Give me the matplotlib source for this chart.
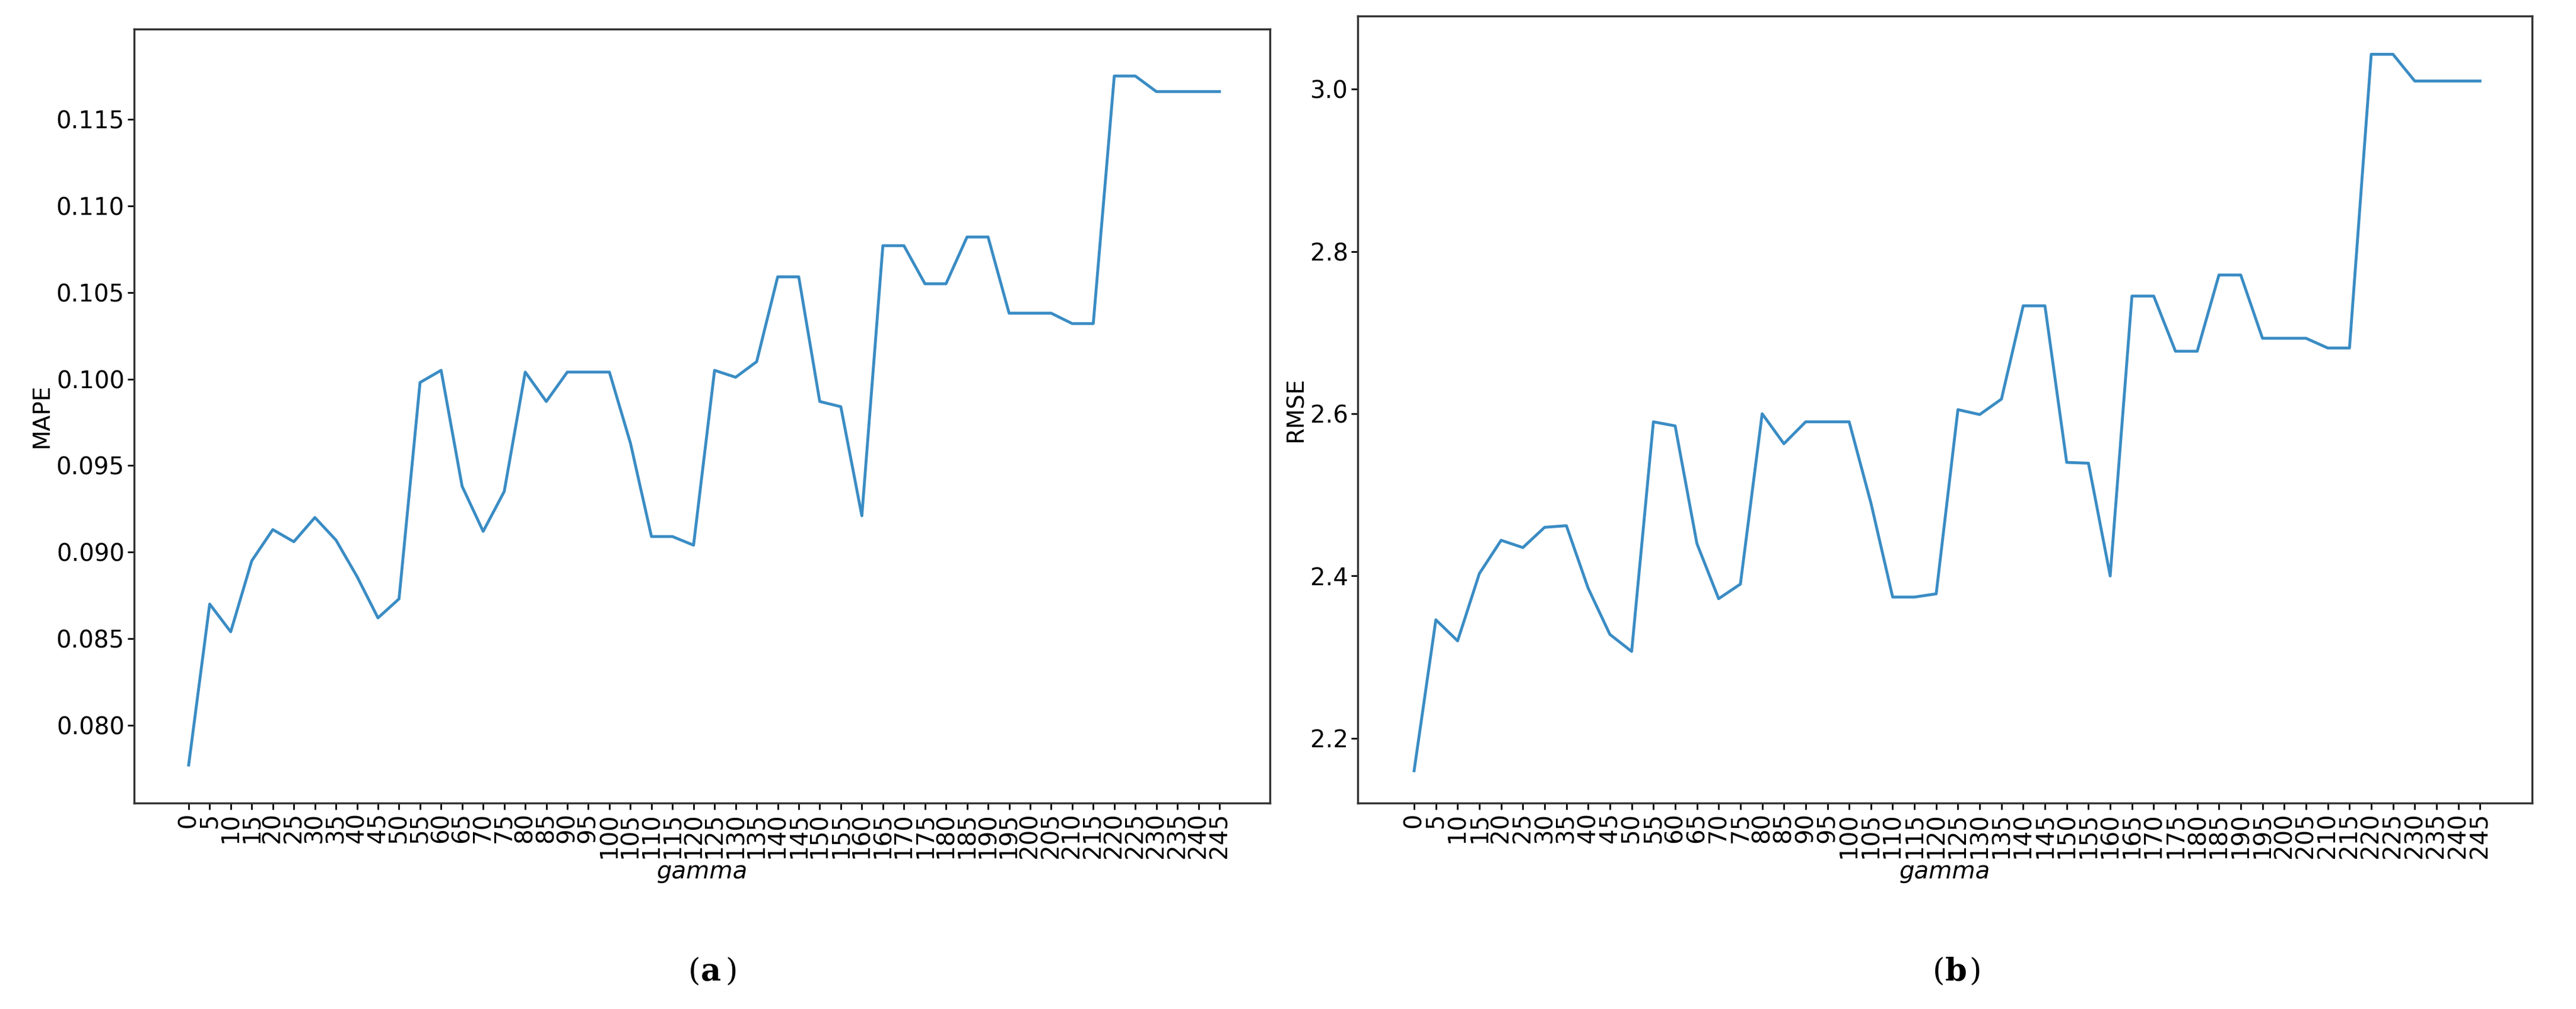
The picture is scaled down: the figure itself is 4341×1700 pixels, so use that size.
import numpy as np
import matplotlib
matplotlib.use("Agg")
import matplotlib.pyplot as plt

gamma = list(range(0, 250, 5))

mape = [0.0777, 0.0870, 0.0854, 0.0895, 0.0913, 0.0906, 0.0920, 0.0907, 0.0886, 0.0862,
        0.0873, 0.0998, 0.1005, 0.0938, 0.0912, 0.0935, 0.1004, 0.0987, 0.1004, 0.1004,
        0.1004, 0.0963, 0.0909, 0.0909, 0.0904, 0.1005, 0.1001, 0.1010, 0.1059, 0.1059,
        0.0987, 0.0984, 0.0921, 0.1077, 0.1077, 0.1055, 0.1055, 0.1082, 0.1082, 0.1038,
        0.1038, 0.1038, 0.1032, 0.1032, 0.1175, 0.1175, 0.1166, 0.1166, 0.1166, 0.1166]

rmse = [2.160, 2.346, 2.320, 2.403, 2.444, 2.435, 2.460, 2.462, 2.385, 2.328,
        2.307, 2.590, 2.585, 2.440, 2.372, 2.390, 2.600, 2.563, 2.590, 2.590,
        2.590, 2.490, 2.374, 2.374, 2.378, 2.605, 2.599, 2.618, 2.733, 2.733,
        2.540, 2.539, 2.400, 2.745, 2.745, 2.677, 2.677, 2.771, 2.771, 2.693,
        2.693, 2.693, 2.681, 2.681, 3.043, 3.043, 3.010, 3.010, 3.010, 3.010]

fig = plt.figure(figsize=(43.41, 17), dpi=100)
ax1 = fig.add_axes([0.052, 0.204, 0.441, 0.767])
ax2 = fig.add_axes([0.527, 0.204, 0.456, 0.780])

for ax, vals, name in [(ax1, mape, "MAPE"), (ax2, rmse, "RMSE")]:
    ax.plot(gamma, vals, color="#3a8cc4", linewidth=3.5)
    ax.set_xticks(gamma)
    ax.set_xticklabels([str(g) for g in gamma], rotation=90)
    ax.tick_params(labelsize=29, width=2, length=8)
    ax.set_xlabel("gamma", fontsize=29, style="italic", labelpad=2)
    ax.set_ylabel(name, fontsize=28)
    for s in ax.spines.values():
        s.set_linewidth(2.5)
        s.set_color("#333333")

ax1.set_xlim(-13, 257)
ax1.set_ylim(0.0755, 0.1202)
ax1.set_yticks(np.arange(0.080, 0.1151, 0.005))
ax1.set_yticklabels([f"{v:.3f}" for v in np.arange(0.080, 0.1151, 0.005)])
ax2.set_xlim(-13, 257)
ax2.set_ylim(2.12, 3.09)
ax2.set_yticks([2.2, 2.4, 2.6, 2.8, 3.0])
ax2.set_yticklabels(["2.2", "2.4", "2.6", "2.8", "3.0"])

for x, letter in [(0.272, "a"), (0.755, "b")]:
    fig.text(x, 0.028, "(", fontsize=38, family="DejaVu Serif", ha="right")
    fig.text(x, 0.028, letter, fontsize=38, family="DejaVu Serif", weight="bold", ha="left")
    fig.text(x + 0.0095, 0.028, ")", fontsize=38, family="DejaVu Serif", ha="left")

fig.savefig("out.png", dpi=100)
